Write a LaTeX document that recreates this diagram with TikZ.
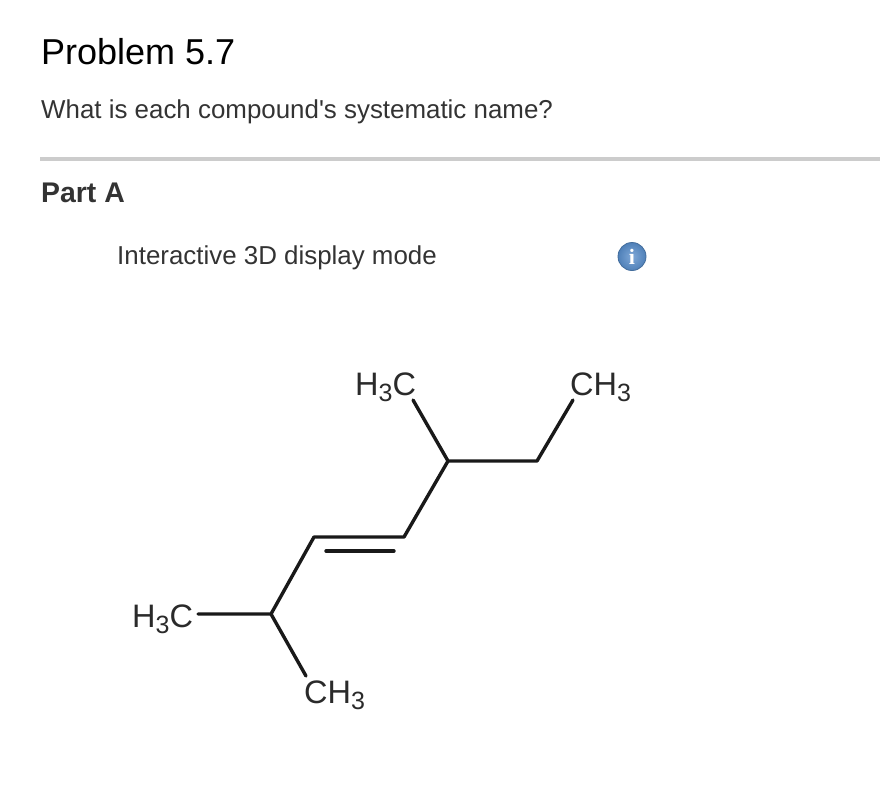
\documentclass[tikz,border=0pt]{standalone}
\usepackage{fontspec}
\newfontfamily\uifont{Liberation Sans}
\newfontfamily\iconfont{Liberation Serif}
\definecolor{infoblue}{HTML}{7FA8D8}
\definecolor{infoedge}{HTML}{4F80B8}
\definecolor{txtgray}{HTML}{333333}
\definecolor{atomgray}{HTML}{2A2A2A}
\newcommand{\subthree}{\raisebox{-6pt}{\fontsize{25}{25}\selectfont 3}}
\tikzset{
    heading/.style={anchor=base west,inner sep=0pt,font=\uifont\fontsize{36}{36}\selectfont,text=black},
    bodytext/.style={anchor=base west,inner sep=0pt,font=\uifont\fontsize{25.9}{26}\selectfont,text=txtgray},
    atom/.style={anchor=base west,inner sep=0pt,font=\uifont\fontsize{32.5}{32}\selectfont,text=atomgray},
    bond/.style={line width=3.4pt,line cap=round,line join=round,black!90}
}
\begin{document}
\begin{tikzpicture}[x=1pt,y=-1pt]
    \useasboundingbox (0,0) rectangle (880,784);
    \node[heading] (title) at (41,64) {Problem 5.7};
    \node[bodytext] (question) at (41,118) {What is each compound's systematic name?};
    \node[bodytext,font=\uifont\fontsize{28.4}{28}\selectfont\bfseries] (part) at (41,202) {Part A};
    \node[bodytext] (mode) at (117,264) {Interactive 3D display mode};
    \coordinate (ruleL) at (40,159);
    \coordinate (ruleR) at (880,159);
    \draw[line width=4pt,black!20] (ruleL) -- (ruleR);
    % info icon
    \node[circle,minimum size=28pt,inner sep=0pt,inner color=infoblue,outer color=infoedge,draw=infoedge!85!black,line width=.8pt,text=white,font=\iconfont\fontsize{22}{22}\selectfont\bfseries] (info) at (632,256.5) {i};
    % carbon chain
    \coordinate (c1) at (448,461);
    \coordinate (c2) at (537,461);
    \coordinate (c3) at (404,537);
    \coordinate (c4) at (314,537);
    \coordinate (c5) at (271,614);
    \coordinate (d1) at (326,551);
    \coordinate (d2) at (394,551);
    \node[atom] (me1) at (355,395) {H\subthree C};
    \node[atom] (me2) at (570,395) {CH\subthree};
    \node[atom] (me3) at (132,627) {H\subthree C};
    \node[atom] (me4) at (304,703) {CH\subthree};
    \coordinate (e1) at (413,400);
    \coordinate (e2) at (573,400);
    \coordinate (e3) at (198,614);
    \coordinate (e4) at (306,676);
    \draw[bond] (e1) -- (c1) -- (c2) -- (e2);
    \draw[bond] (c1) -- (c3) -- (c4) -- (c5) -- (e3);
    \draw[bond] (c5) -- (e4);
    \draw[bond] (d1) -- (d2);
\end{tikzpicture}
\end{document}
